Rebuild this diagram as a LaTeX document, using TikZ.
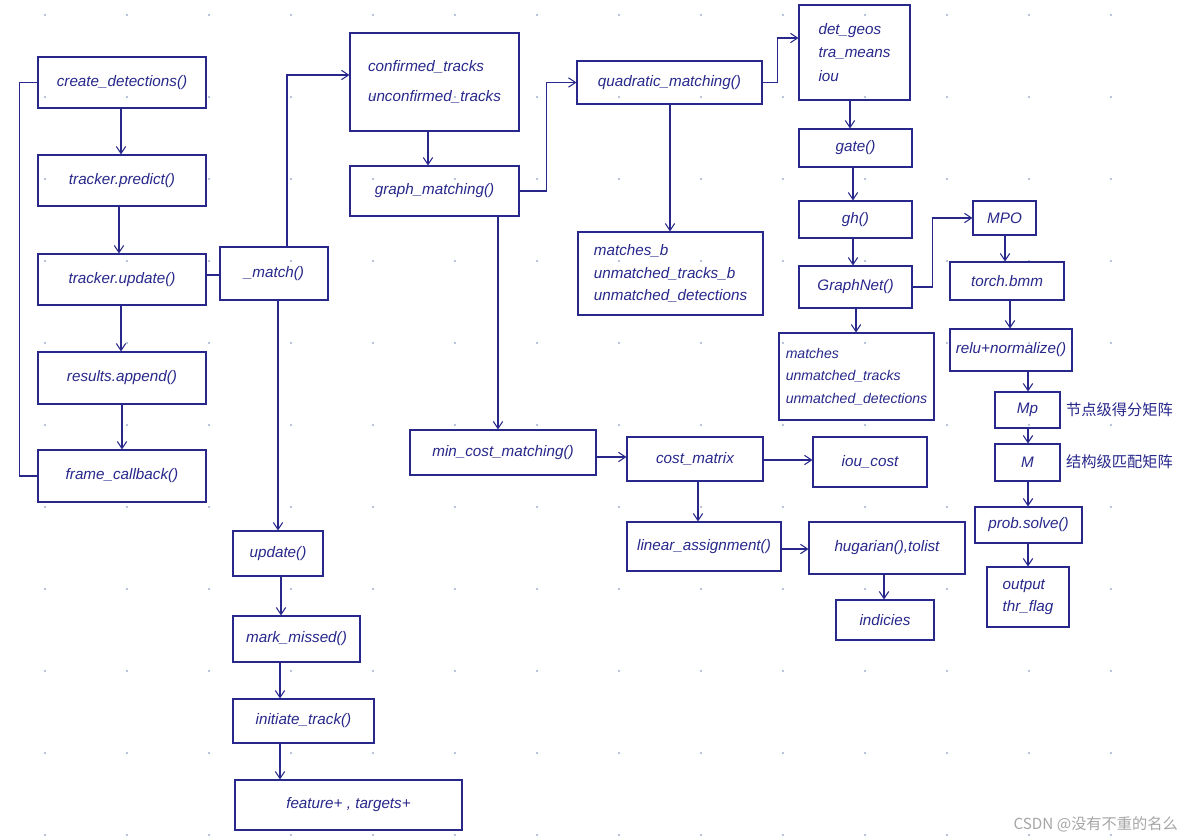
\documentclass[tikz,border=0pt]{standalone}
\usepackage{fontspec}
\usetikzlibrary{arrows.meta}
\setmainfont{Liberation Sans}
\newfontfamily\cjk{Noto Sans CJK SC}
\definecolor{ink}{RGB}{40,40,140}
\definecolor{dotc}{RGB}{160,175,205}
\begin{document}
\begin{tikzpicture}[x=0.03cm,y=-0.03cm,
  bx/.style={draw=ink,line width=0.9pt,text=ink,font=\itshape\fontsize{13}{16}\selectfont,inner sep=0pt},
  ln/.style={draw=ink,line width=0.9pt},
  ar/.style={ln,-{Straight Barb[length=6pt,width=8pt]}}]
\useasboundingbox (0,0) rectangle (1187,839);
\fill[white] (0,0) rectangle (1187,839);
\foreach \i in {0,...,14}{\foreach \j in {0,...,10}{
  \fill[dotc] ({45+82*\i},{15+82*\j}) circle (0.9pt);}}
\newcommand{\bxx}[6]{\node[bx,minimum width={(#4-#2)*0.03cm},minimum height={(#5-#3)*0.03cm},align=left] (#1) at ({(#2+#4)/2},{(#3+#5)/2}) {#6};}
\bxx{cd}{38}{57}{206}{108}{create\_detections()}
\bxx{tp}{38}{155}{206}{206}{tracker.predict()}
\bxx{tu}{38}{254}{206}{305}{tracker.update()}
\bxx{ra}{38}{352}{206}{404}{results.append()}
\bxx{fc}{38}{450}{206}{502}{frame\_callback()}
\bxx{mt}{220}{247}{328}{300}{\_match()}
\bxx{ct}{350}{33}{519}{131}{confirmed\_tracks\\[10pt]unconfirmed\_tracks}
\bxx{gm}{350}{166}{519}{216}{graph\_matching()}
\bxx{qm}{577}{61}{762}{104}{quadratic\_matching()}
\bxx{dg}{799}{5}{910}{100}{det\_geos\\[4pt]tra\_means\\[4pt]iou}
\bxx{ga}{799}{129}{912}{167}{gate()}
\bxx{gh}{799}{201}{912}{238}{gh()}
\bxx{gn}{799}{266}{912}{308}{GraphNet()}
\bxx{ma}{779}{333}{934}{420}{\fontsize{12}{15}\selectfont matches\\[3pt]\fontsize{12}{15}\selectfont unmatched\_tracks\\[3pt]\fontsize{12}{15}\selectfont unmatched\_detections}
\bxx{mb}{578}{232}{763}{315}{matches\_b\\[3pt]unmatched\_tracks\_b\\[3pt]unmatched\_detections}
\bxx{mpo}{973}{201}{1036}{235}{MPO}
\bxx{tb}{950}{262}{1064}{300}{torch.bmm}
\bxx{rn}{950}{329}{1072}{371}{relu+normalize()}
\bxx{mp}{995}{392}{1060}{428}{Mp}
\bxx{m}{995}{444}{1060}{481}{M}
\bxx{ps}{975}{507}{1082}{543}{prob.solve()}
\bxx{out}{987}{567}{1069}{627}{output\\[3pt]thr\_flag}
\bxx{mc}{410}{430}{596}{475}{min\_cost\_matching()}
\bxx{cm}{627}{437}{763}{481}{cost\_matrix}
\bxx{ic}{813}{437}{927}{487}{iou\_cost}
\bxx{la}{627}{522}{781}{571}{linear\_assignment()}
\bxx{hu}{809}{522}{965}{574}{hugarian(),tolist}
\bxx{ind}{836}{600}{934}{640}{indicies}
\bxx{up}{233}{531}{323}{576}{update()}
\bxx{mm}{233}{616}{360}{662}{mark\_missed()}
\bxx{it}{233}{699}{374}{743}{initiate\_track()}
\bxx{ft}{235}{780}{462}{830}{feature+ , targets+}
\node[text=ink,anchor=west,font=\cjk\fontsize{13}{15}\selectfont] (l1) at (1062,410) {节点级得分矩阵};
\node[text=ink,anchor=west,font=\cjk\fontsize{13}{15}\selectfont] (l2) at (1062,462) {结构级匹配矩阵};
\node[text=gray!70,anchor=south east,font=\cjk\fontsize{13}{15}\selectfont] (wm) at (1182,836) {CSDN @没有不重的名么};
\draw[ar] (cd.south-|121,0) -- (tp.north-|121,0);
\draw[ar] (tp.south-|119,0) -- (tu.north-|119,0);
\draw[ar] (tu.south-|121,0) -- (ra.north-|121,0);
\draw[ar] (ra.south-|122,0) -- (fc.north-|122,0);
\draw[ln] (fc.west) -- ++(-18,0) |- (cd.west);
\draw[ln] (tu.east|-0,275) -- (mt.west|-0,275);
\draw[ar] (mt.north-|287,0) |- (ct.west|-0,75);
\draw[ar] (ct.south-|428,0) -- (gm.north-|428,0);
\draw[ar] (gm.east) -- ++(27,0) |- (qm.west);
\draw[ar] (qm.east) -- ++(15,0) |- (dg.west|-0,38);
\draw[ar] (qm.south-|670,0) -- (mb.north-|670,0);
\draw[ar] (dg.south-|850,0) -- (ga.north-|850,0);
\draw[ar] (ga.south-|853,0) -- (gh.north-|853,0);
\draw[ar] (gh.south-|853,0) -- (gn.north-|853,0);
\draw[ar] (gn.south-|856,0) -- (ma.north-|856,0);
\draw[ar] (gn.east) -- ++(20,0) |- (mpo.west);
\draw[ar] (mpo.south-|1005,0) -- (tb.north-|1005,0);
\draw[ar] (tb.south-|1010,0) -- (rn.north-|1010,0);
\draw[ar] (rn.south-|1028,0) -- (mp.north-|1028,0);
\draw[ar] (mp.south-|1028,0) -- (m.north-|1028,0);
\draw[ar] (m.south-|1028,0) -- (ps.north-|1028,0);
\draw[ar] (ps.south-|1028,0) -- (out.north-|1028,0);
\draw[ar] (gm.south-|498,0) -- (mc.north-|498,0);
\draw[ar] (mc.east|-0,457) -- (cm.west|-0,457);
\draw[ar] (cm.east|-0,460) -- (ic.west|-0,460);
\draw[ar] (cm.south-|698,0) -- (la.north-|698,0);
\draw[ar] (la.east|-0,549) -- (hu.west|-0,549);
\draw[ar] (hu.south-|884,0) -- (ind.north-|884,0);
\draw[ar] (mt.south-|278,0) -- (up.north-|278,0);
\draw[ar] (up.south-|281,0) -- (mm.north-|281,0);
\draw[ar] (mm.south-|280,0) -- (it.north-|280,0);
\draw[ar] (it.south-|280,0) -- (ft.north-|280,0);
\end{tikzpicture}
\end{document}
